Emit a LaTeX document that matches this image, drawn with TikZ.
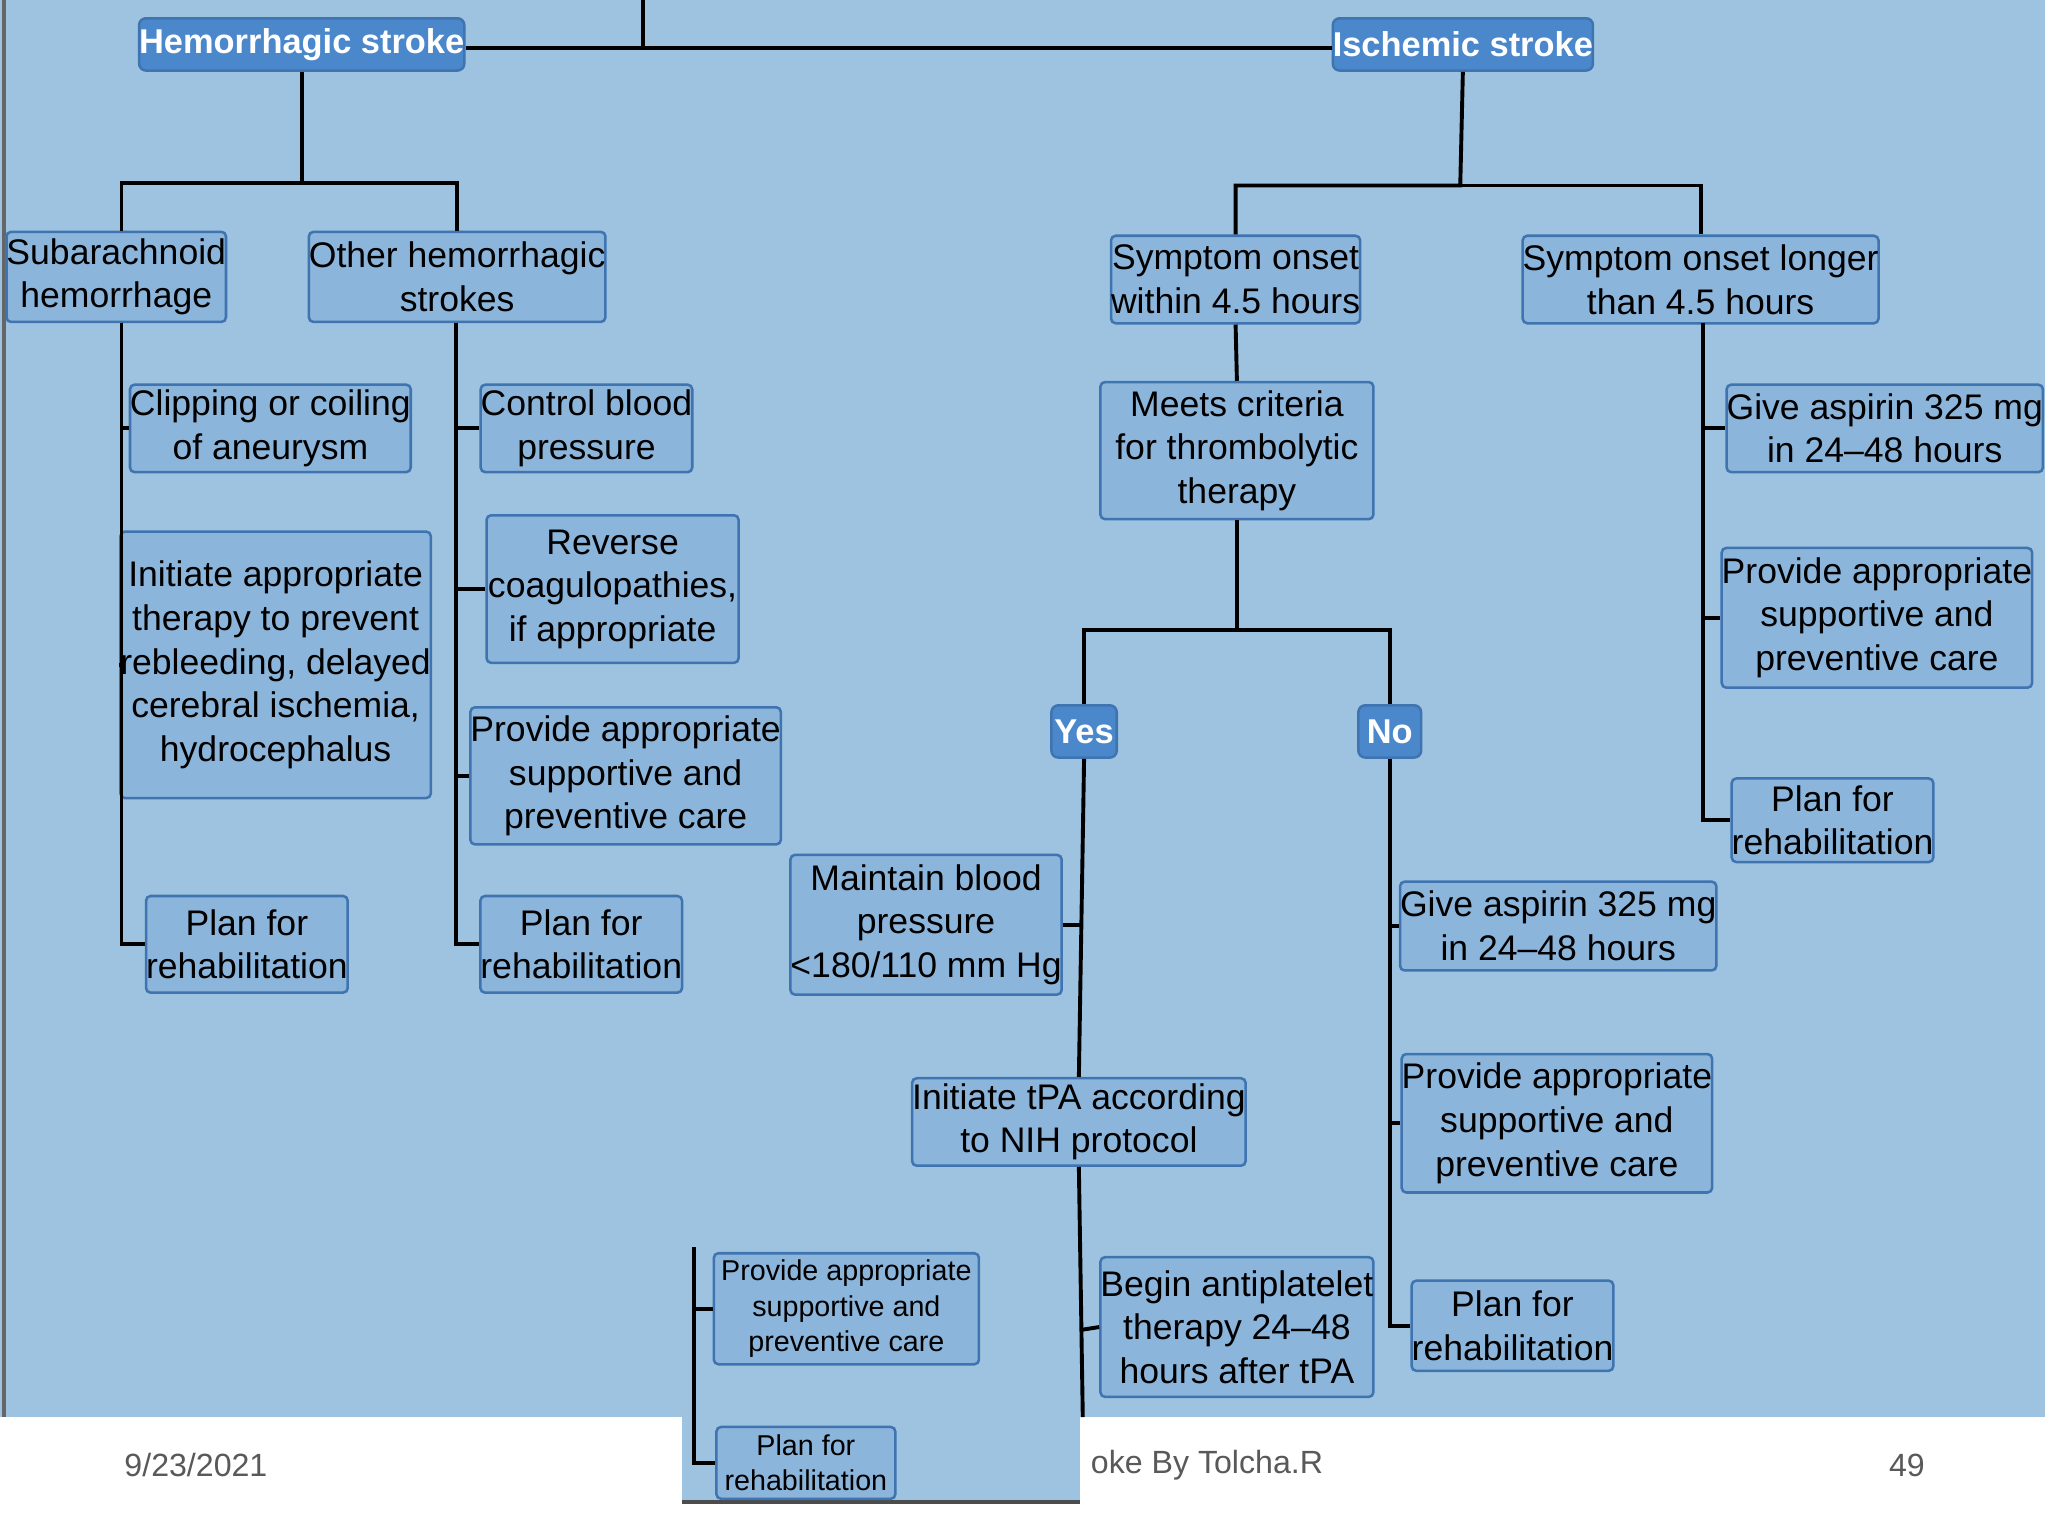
\documentclass[tikz,border=0pt]{standalone}
\usepackage{fontspec}
\setmainfont{Liberation Sans}
\definecolor{bgb}{HTML}{9DC3E0}
\definecolor{boxf}{HTML}{8CB5DB}
\definecolor{boxd}{HTML}{3F74B0}
\definecolor{hdr}{HTML}{4B88CB}
\definecolor{foot}{HTML}{595959}
\tikzset{
 bx/.style={draw=boxd,fill=boxf,line width=1.1pt,rounded corners=2pt,inner sep=0pt,align=center,font=\fontsize{15.5}{19}\selectfont},
 hd/.style={draw=boxd,fill=hdr,line width=1.1pt,rounded corners=3pt,inner sep=0pt,align=center,text=white,font=\fontsize{15}{18}\selectfont\bfseries},
 sm/.style={font=\fontsize{12.5}{15.5}\selectfont},
 cn/.style={line width=1.7pt,black},
}
\newcommand{\bxn}[7][bx]{\node[#1,minimum width={#5*0.02cm},minimum height={#6*0.02cm}] (#2) at (#3,#4) {#7};}
\begin{document}
\begin{tikzpicture}[x=0.02cm,y=-0.02cm]
\useasboundingbox (0,0) rectangle (1568,1176);
\fill[white] (0,0) rectangle (1568,1176);
\fill[bgb] (0,0) rectangle (1566,1085);
\draw[line width=2pt,black!60] (3,0) -- (3,1085);
\fill[bgb] (522,955) rectangle (827,1150);
\draw[line width=2pt,black!70] (522,1150) -- (827,1150);
% headers
\bxn[hd]{hem}{231}{34}{246}{40}{Hemorrhagic stroke}
\bxn[hd]{isc}{1120}{34}{196}{40}{Ischemic stroke}
% hemorrhagic
\bxn{sah}{89}{212}{158}{69}{Subarachnoid\\hemorrhage}
\bxn{ohs}{350}{212}{213}{69}{Other hemorrhagic\\strokes}
\bxn{clip}{207}{328}{187}{67}{Clipping or coiling\\of aneurysm}
\bxn{init}{211}{509}{221}{204}{Initiate appropriate\\therapy to prevent\\rebleeding, delayed\\cerebral ischemia,\\hydrocephalus}
\bxn{plA}{189}{723}{148}{74}{Plan for\\rehabilitation}
\bxn{cbp}{449}{328}{156}{67}{Control blood\\pressure}
\bxn{rev}{469}{451}{193}{113}{Reverse\\coagulopathies,\\if appropriate}
\bxn{supB}{479}{594}{215}{105}{Provide appropriate\\supportive and\\preventive care}
\bxn{plB}{445}{723}{149}{74}{Plan for\\rehabilitation}
% ischemic
\bxn{on1}{946}{214}{175}{67}{Symptom onset\\within 4.5 hours}
\bxn{on2}{1302}{214}{250}{67}{Symptom onset longer\\than 4.5 hours}
\bxn{meet}{947}{345}{209}{105}{Meets criteria\\for thrombolytic\\therapy}
\bxn[hd]{yes}{830}{560}{50}{40}{Yes}
\bxn[hd]{no}{1064}{560}{48}{40}{No}
\bxn{mbp}{709}{708}{201}{107}{Maintain blood\\pressure\\<180/110 mm Hg}
\bxn{tpa}{826}{859}{236}{67}{Initiate tPA according\\to NIH protocol}
\bxn{anti}{947}{1016}{198}{107}{Begin antiplatelet\\therapy 24–48\\hours after tPA}
\bxn[bx,sm]{supC}{648}{1002}{203}{85}{Provide appropriate\\supportive and\\preventive care}
\bxn[bx,sm]{plC}{617}{1120}{137}{55}{Plan for\\rehabilitation}
\bxn{aspD}{1193}{709}{222}{68}{Give aspirin 325 mg\\in 24–48 hours}
\bxn{supD}{1192}{860}{220}{106}{Provide appropriate\\supportive and\\preventive care}
\bxn{plD}{1158}{1015}{154}{69}{Plan for\\rehabilitation}
\bxn{aspE}{1443}{328}{230}{67}{Give aspirin 325 mg\\in 24–48 hours}
\bxn{supE}{1437}{473}{216}{107}{Provide appropriate\\supportive and\\preventive care}
\bxn{plE}{1403}{628}{147}{64}{Plan for\\rehabilitation}
% connectors
\coordinate (top) at (492,0);
\draw[cn] (top) -- (492,37);
\draw[cn] (hem.east |- 0,37) -- (isc.west |- 0,37);
\draw[cn] (hem.south) -- (231,140) -| (sah.north -| 93,0);
\draw[cn] (231,140) -| (ohs.north);
\draw[cn] (93,247) |- (plA.west);
\draw[cn] (93,328) -- (clip.west);
\draw[cn] (93,509) -- (init.west);
\draw[cn] (349,247) |- (plB.west);
\draw[cn] (349,328) -- (cbp.west);
\draw[cn] (349,451) -- (rev.west);
\draw[cn] (349,594) -- (supB.west);
\draw[cn] (isc.south) -- (1118,142) -| (on1.north);
\draw[cn] (1118,142) -| (on2.north);
\draw[cn] (on1.south) -- (meet.north);
\draw[cn] (meet.south) -- (947,482) -| (yes.north);
\draw[cn] (947,482) -| (no.north);
\coordinate (yb) at (829,1085);
\draw[cn] (yes.south) -- (tpa.north);
\draw[cn] (tpa.south) -- (yb);
\draw[cn] (829,708) -- (mbp.east);
\draw[cn] (829,1018) -- (anti.west);
\coordinate (it) at (531,955);
\draw[cn] (it) |- (plC.west);
\draw[cn] (531,1002) -- (supC.west);
\draw[cn] (no.south) |- (plD.west);
\draw[cn] (1065,709) -- (aspD.west);
\draw[cn] (1065,860) -- (supD.west);
\draw[cn] (1304,247) |- (plE.west);
\draw[cn] (1304,328) -- (aspE.west);
\draw[cn] (1304,473) -- (supE.west);
% footer
\node[text=foot,font=\fontsize{14}{16}\selectfont] (d) at (150,1122) {9/23/2021};
\node[text=foot,font=\fontsize{14}{16}\selectfont,anchor=west] (t) at (829,1122) {oke By Tolcha.R};
\node[text=foot,font=\fontsize{14}{16}\selectfont] (p) at (1460,1122) {49};
\end{tikzpicture}
\end{document}
